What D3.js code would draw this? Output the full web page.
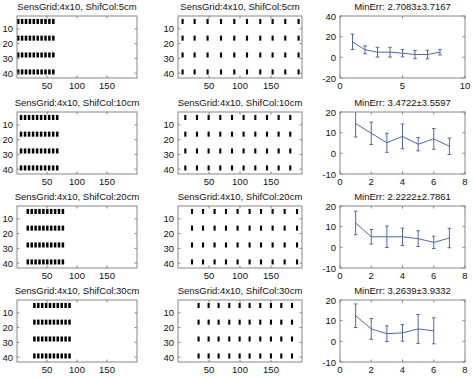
<!DOCTYPE html>
<html><head><meta charset="utf-8">
<script src="https://cdn.jsdelivr.net/npm/d3@7"></script>
<style>
html,body{margin:0;padding:0;background:#fff;}
text{font-family:"Liberation Sans",Arial,Helvetica,sans-serif;fill:#111;}
</style></head>
<body><svg id="c" width="474" height="378"></svg>
<script>
// ---------- data ----------
const gridTitles = ["SensGrid:4x10, ShifCol:5cm","SensGrid:4x10, ShifCol:10cm","SensGrid:4x10, ShifCol:20cm","SensGrid:4x10, ShifCol:30cm"];
const errTitles = ["MinErr: 2.7083\u00b13.7167","MinErr: 3.4722\u00b13.5597","MinErr: 2.2222\u00b12.7861","MinErr: 3.2639\u00b13.9332"];
const sensorRows = [5, 16.3, 27.7, 39.2];
const denseCols = [
  [2, 8.5, 15, 21.5, 28, 34.5, 41, 47.5, 54, 60.5],
  [6.7, 13.4, 20.1, 26.8, 33.5, 40.2, 46.9, 53.6, 60.3, 67],
  [18, 24.5, 31, 37.5, 44, 50.5, 57, 63.5, 70, 76.5],
  [29, 35.5, 42, 48.5, 55, 61.5, 68, 74.5, 81, 87.5]
];
const sparseCols = [
  [7.4, 26.8, 47.7, 69.4, 90.8, 111.3, 132.7, 152.6, 173, 194.5],
  [11.8, 30.6, 49.4, 68.2, 87.1, 105.8, 124.7, 143.5, 162.3, 181.1],
  [22.6, 40.3, 59, 77.4, 96.1, 115.5, 133.9, 152.6, 172, 192],
  [33.2, 49.4, 65.5, 82.7, 99.4, 115.5, 132.7, 149.9, 166.6, 183.9]
];
const gridXTicks = [50, 100, 150];
const gridYTicks = [10, 20, 30, 40];
const errX = [
  [1,2,3,4,5,6,7,8],
  [1,2,3,4,5,6,7],
  [1,2,3,4,5,6,7],
  [1,2,3,4,5,6]
];
const errMean = [
  [15, 7.3, 5, 5, 4, 2.7, 2.7, 5],
  [14.4, 9.7, 5.1, 8.2, 4.4, 7, 3.4],
  [11.8, 5.1, 5.1, 5.1, 4.2, 2.4, 4.5],
  [12.4, 6, 3.7, 4.1, 6, 5.1]
];
const errDev = [
  [7.5, 3.8, 4.7, 4.7, 3.5, 4, 4.2, 2.7],
  [6.5, 5.4, 4.6, 6, 3.2, 5, 4],
  [5.7, 3.5, 5.2, 4.2, 3.8, 3, 4.7],
  [5.7, 5, 3.8, 4, 7, 6.3]
];
const errXDomain = [[0,10],[0,8],[0,8],[0,8]];
const errYDomain = [[-20,40],[-10,20],[-10,20],[-10,20]];
const errXTicks = [[0,5,10],[0,2,4,6,8],[0,2,4,6,8],[0,2,4,6,8]];
const errYTicks = [[-20,0,20,40],[-10,0,10,20],[-10,0,10,20],[-10,0,10,20]];

// ---------- layout ----------
const svg = d3.select("#c");
const rowTop = [16, 112, 206, 300];
const rowH = 62;
const colX = [[17,137],[178,302],[340,465]];
const boxColor = "#8a8585";
const lineColor = "#4f68aa";
const fs = 9.5;

function drawBox(g, w, h, x, y, xt, yt, fmtY) {
  g.append("rect").attr("x",0).attr("y",0).attr("width",w).attr("height",h)
    .attr("fill","none").attr("stroke",boxColor).attr("stroke-width",1);
  const tl = 2.5;
  xt.forEach(t => {
    const px = x(t);
    g.append("line").attr("x1",px).attr("x2",px).attr("y1",h).attr("y2",h-tl).attr("stroke",boxColor);
    g.append("line").attr("x1",px).attr("x2",px).attr("y1",0).attr("y2",tl).attr("stroke",boxColor);
    g.append("text").attr("x",px).attr("y",h+11).attr("text-anchor","middle").attr("font-size",fs).text(t);
  });
  yt.forEach(t => {
    const py = y(t);
    g.append("line").attr("x1",0).attr("x2",tl).attr("y1",py).attr("y2",py).attr("stroke",boxColor);
    g.append("line").attr("x1",w).attr("x2",w-tl).attr("y1",py).attr("y2",py).attr("stroke",boxColor);
    g.append("text").attr("x",-4).attr("y",py+3.5).attr("text-anchor","end").attr("font-size",fs).text(t);
  });
}

for (let r = 0; r < 4; r++) {
  // grid panels
  [[denseCols[r], 0, 4.2], [sparseCols[r], 1, 3.4]].forEach(([cols, c, bw]) => {
    const w = colX[c][1]-colX[c][0];
    const g = svg.append("g").attr("transform",`translate(${colX[c][0]},${rowTop[r]})`);
    const x = d3.scaleLinear().domain([0,200]).range([0,w]);
    const y = d3.scaleLinear().domain([1.3,43.3]).range([0,rowH]);
    g.append("text").attr("x",w/2).attr("y",-6).attr("text-anchor","middle").attr("font-size",fs).text(gridTitles[r]);
    const pts = [];
    sensorRows.forEach(ry => cols.forEach(cx => pts.push([cx, ry])));
    g.selectAll("rect.s").data(pts).join("rect").attr("class","s")
      .attr("x",d => x(d[0]-bw/2)).attr("width",x(bw)-x(0))
      .attr("y",d => y(d[1]-1.7)).attr("height",y(3.4)-y(0))
      .attr("fill","#000");
    drawBox(g, w, rowH, x, y, gridXTicks, gridYTicks);
  });
  // error bar panel
  const w = colX[2][1]-colX[2][0];
  const g = svg.append("g").attr("transform",`translate(${colX[2][0]},${rowTop[r]})`);
  const x = d3.scaleLinear().domain(errXDomain[r]).range([0,w]);
  const y = d3.scaleLinear().domain(errYDomain[r]).range([rowH,0]);
  g.append("text").attr("x",w/2).attr("y",-6).attr("text-anchor","middle").attr("font-size",fs).text(errTitles[r]);
  const cid = "clip"+r;
  g.append("clipPath").attr("id",cid).append("rect").attr("width",w).attr("height",rowH);
  const pg = g.append("g").attr("clip-path",`url(#${cid})`);
  const data = errX[r].map((v,i)=>({x:v,m:errMean[r][i],e:errDev[r][i]}));
  pg.append("path").datum(data).attr("fill","none").attr("stroke",lineColor).attr("stroke-width",1)
    .attr("d", d3.line().x(d=>x(d.x)).y(d=>y(d.m)));
  data.forEach(d => {
    const px = x(d.x);
    pg.append("line").attr("x1",px).attr("x2",px).attr("y1",y(d.m+d.e)).attr("y2",y(d.m-d.e)).attr("stroke",lineColor);
    [d.m+d.e, d.m-d.e].forEach(v => pg.append("line").attr("x1",px-1.8).attr("x2",px+1.8)
      .attr("y1",y(v)).attr("y2",y(v)).attr("stroke",lineColor));
  });
  drawBox(g, w, rowH, x, y, errXTicks[r], errYTicks[r]);
}
</script></body></html>
